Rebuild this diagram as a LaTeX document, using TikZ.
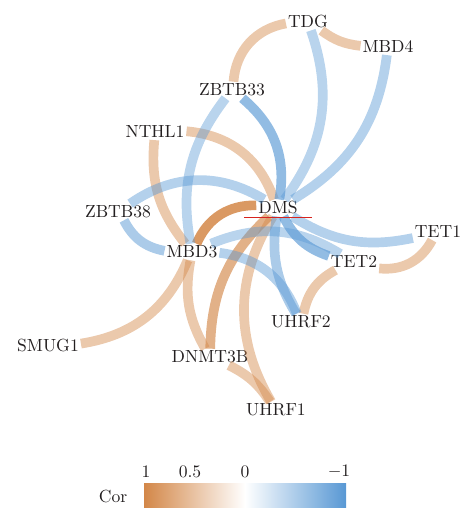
\documentclass[tikz,border=0pt]{standalone}
\usepackage{tikz}
\usetikzlibrary{calc}
\definecolor{corpos}{RGB}{211,135,72}
\definecolor{corneg}{RGB}{88,152,212}
\definecolor{gtext}{RGB}{35,31,32}
\definecolor{dmsred}{RGB}{215,35,30}

\begin{document}
\begin{tikzpicture}[x=0.02cm, y=0.02cm,
  gene/.style={font=\fontsize{10}{12}\selectfont, text=gtext, inner sep=1pt},
  corlink/.style={line width=5.5pt},
  poscor/.style={corlink, draw=corpos, draw opacity=#1}, poscor/.default=0.45,
  negcor/.style={corlink, draw=corneg, draw opacity=#1}, negcor/.default=0.42]

  \useasboundingbox (0,0) rectangle (474,526);

  % --- genes ---
  \node[gene] (tdg)    at (308,504) {TDG};
  \node[gene] (mbd4)   at (388,479) {MBD4};
  \node[gene] (zbtb33) at (232,436) {ZBTB33};
  \node[gene] (nthl1)  at (155,394) {NTHL1};
  \node[gene] (zbtb38) at (118,314) {ZBTB38};
  \node[gene] (dms)    at (278,318) {DMS};
  \node[gene] (mbd3)   at (192,274) {MBD3};
  \node[gene] (tet1)   at (438,294) {TET1};
  \node[gene] (tet2)   at (354,264) {TET2};
  \node[gene] (uhrf2)  at (301,204) {UHRF2};
  \node[gene] (smug1)  at (48,180)  {SMUG1};
  \node[gene] (dnmt3b) at (210,169) {DNMT3B};
  \node[gene] (uhrf1)  at (276,116) {UHRF1};

  % --- positive correlations ---
  \draw[poscor] (zbtb33) to[bend left=38] (tdg);
  \draw[poscor] (tdg) to[bend right=15] (mbd4);
  \draw[poscor] (nthl1) to[bend left=33] (dms);
  \draw[poscor] (nthl1) to[bend right=22] (mbd3);
  \draw[poscor=0.85] (mbd3) to[bend left=34] (dms);
  \draw[poscor] (mbd3) to[bend left=29] (smug1);
  \draw[poscor] (mbd3) to[bend right=20] (dnmt3b);
  \draw[poscor=0.65] (dms) to[bend right=23] (dnmt3b);
  \draw[poscor] (dms) to[bend right=31] (uhrf1);
  \draw[poscor] (dnmt3b) to[bend left=15] (uhrf1);
  \draw[poscor] (tet1) to[bend left=34] (tet2);
  \draw[poscor] (tet2) to[bend right=25] (uhrf2);

  % --- negative correlations ---
  \draw[negcor] (tdg) to[bend left=28] (dms);
  \draw[negcor=0.45] (mbd4) to[bend left=26] (dms);
  \draw[negcor=0.65] (zbtb33) to[bend left=30] (dms);
  \draw[negcor] (zbtb33) to[bend right=24] (mbd3);
  \draw[negcor=0.45] (zbtb38) to[bend left=33] (dms);
  \draw[negcor=0.5] (zbtb38) to[bend right=26] (mbd3);
  \draw[negcor] (mbd3) to[bend left=27] (tet2);
  \draw[negcor=0.45] (mbd3) to[bend left=31] (uhrf2);
  \draw[negcor=0.45] (dms) to[bend right=22] (tet1);
  \draw[negcor=0.65] (dms) to[bend right=22] (tet2);
  \draw[negcor=0.5] (dms) to[bend right=20] (uhrf2);

  % --- hub underline ---
  \draw[dmsred, line width=1pt] ($(dms.south west)+(-12,-1)$) -- ($(dms.south east)+(12,-1)$);

  % --- colour key ---
  \shade[left color=corpos, right color=white] (144,18) rectangle (245,42);
  \shade[left color=white, right color=corneg] (245,18) rectangle (346,42);
  \node[gene] (cor) at (113,29) {Cor};
  \node[gene] (tick1)  at (146,54) {1};
  \node[gene] (tick05) at (190,54) {0.5};
  \node[gene] (tick0)  at (245,54) {0};
  \node[gene] (tickm1) at (339,54) {$-1$};

\end{tikzpicture}
\end{document}
